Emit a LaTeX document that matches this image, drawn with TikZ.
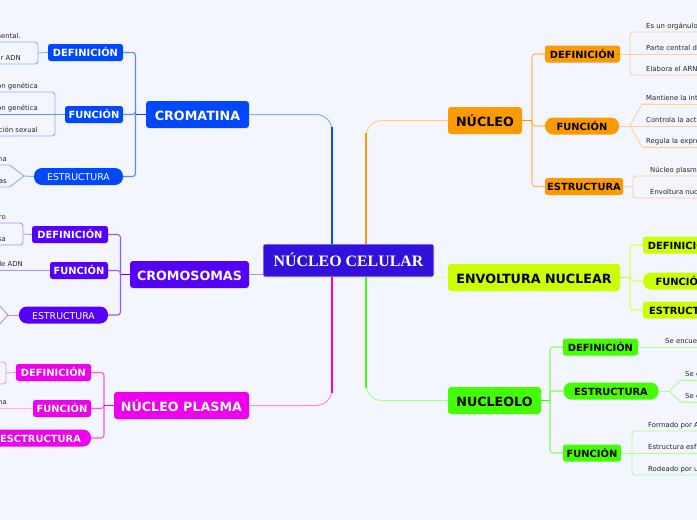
\documentclass[tikz,border=0pt]{standalone}
\usepackage{fontspec}
\setmainfont{DejaVu Sans}
\newfontfamily\titlefont{Liberation Serif}
\definecolor{pagebg}{HTML}{F4F6FF}
\definecolor{ccentral}{HTML}{3311DD}
\definecolor{cblue}{HTML}{0048FF}
\definecolor{cpurple}{HTML}{5500FF}
\definecolor{cmagenta}{HTML}{EE00EE}
\definecolor{corange}{HTML}{FF9900}
\definecolor{clime}{HTML}{CCFF00}
\definecolor{cgreen}{HTML}{44FF00}
\tikzset{
	central/.style={fill=ccentral, draw=white, line width=.6pt, rounded corners=2pt, inner sep=0pt, minimum height=33pt, minimum width=171pt, text height=11.5pt, text depth=0pt, text=white, font=\titlefont\fontsize{15.9}{16}\selectfont\bfseries},
	topic/.style={rounded corners=3pt, inner sep=0pt, minimum height=27pt, text height=11.5pt, text depth=0pt, font=\fontsize{12.7}{14}\selectfont\bfseries},
	subtopic/.style={rounded corners=2.5pt, inner sep=0pt, minimum height=17pt, text height=8pt, text depth=0pt, font=\fontsize{9.9}{11}\selectfont\bfseries},
	subpill/.style={subtopic, rounded corners=8pt},
	leafr/.style={anchor=base west, inner sep=0pt, text=black!85, font=\fontsize{6.9}{8}\selectfont},
	leafl/.style={leafr, anchor=base east},
}
% trunk from the central node: pale along the topic, strong near the centre
\newcommand{\drawtrunk}[4]{
	\draw[#3!45, line width=1pt, rounded corners=16pt] (#1) -- (#4 |- #1) -- (#4 |- #2);
	\draw[#3, line width=2.2pt] ($(#4 |- #2)!.9!(#4 |- #1)$) -- (#4 |- #2);
}
% bus between a topic and its subtopics
\newcommand{\drawbus}[4]{
	\draw[#4!65, line width=1.1pt, rounded corners=3pt] (#2) -- (#3 |- #2) -- (#3 |- #1);
	\draw[#4, line width=1.2pt] (#1) -- (#3 |- #1);
}
% open bracket #1 round the leaves, bend at #2, far end at #3, from #4 to #5
\newcommand{\drawbracket}[6]{
	\pgfmathsetmacro{\ymid}{(#4+#5)/2}
	\coordinate (#1) at (#2,\ymid);
	\draw[#6!45, line width=.9pt, rounded corners=3pt] (#3,#4) -- (#2,#4) -- (#2,#5) -- (#3,#5);
}
\newcommand{\drawchevron}[6]{
	\pgfmathsetmacro{\ymid}{(#4+#5)/2}
	\coordinate (#1) at (#2,\ymid);
	\draw[#6!45, line width=.9pt] (#3,#4) -- ($(#2,#4)!.5!(#3,#4)$) -- (#2,\ymid) -- ($(#2,#5)!.5!(#3,#5)$) -- (#3,#5);
}
\usetikzlibrary{calc}
\begin{document}
\begin{tikzpicture}[x=1pt,y=-1pt]
	\useasboundingbox (0,0) rectangle (697,520);
	\fill[pagebg] (0,0) rectangle (697,520);
	\clip (0,0) rectangle (697,520);

	\node[central] (celular) at (348.5,260.5) {NÚCLEO CELULAR};

	% topics
	\node[topic, fill=cblue, text=white, minimum width=103pt] (cromatina) at (197.5,114.5) {CROMATINA};
	\node[topic, fill=cpurple, text=white, minimum width=119pt] (cromosomas) at (189.5,274.5) {CROMOSOMAS};
	\node[topic, fill=cmagenta, text=white, minimum width=135pt] (plasma) at (181.5,405.5) {NÚCLEO PLASMA};
	\node[topic, fill=corange, text=black, minimum width=74pt] (nucleo) at (485,120.5) {NÚCLEO};
	\node[topic, fill=clime, text=black, minimum width=172pt] (envoltura) at (534,277.5) {ENVOLTURA NUCLEAR};
	\node[topic, fill=cgreen, text=black, minimum width=93pt] (nucleolo) at (494.5,400.5) {NUCLEOLO};

	\coordinate (trunkl) at (332,0);
	\coordinate (trunkr) at (366,0);
	\drawtrunk{cromatina.east}{trunkl |- celular.north}{cblue}{trunkl}
	\drawtrunk{plasma.east}{trunkl |- celular.south}{cmagenta}{trunkl}
	\drawtrunk{nucleo.west}{trunkr |- celular.north}{corange}{trunkr}
	\drawtrunk{nucleolo.west}{trunkr |- celular.south}{cgreen}{trunkr}
	\draw[cpurple!45, line width=1pt] (celular.west |- cromosomas.east) -- (cromosomas.east);
	\draw[clime!45, line width=1pt] (celular.east |- envoltura.west) -- (envoltura.west);

	% subtopics
	\node[subtopic, fill=cblue, text=white, minimum width=75pt] (cromatinadef) at (85.5,52.5) {DEFINICIÓN};
	\node[subtopic, fill=cblue, text=white, minimum width=58pt] (cromatinafun) at (94,114.5) {FUNCIÓN};
	\node[subpill, fill=cblue, text=white, minimum width=89pt, font=\fontsize{9.4}{11}\selectfont] (cromatinaest) at (78.5,176.5) {ESTRUCTURA};
	\node[subtopic, fill=cpurple, text=white, minimum width=76pt] (cromosomasdef) at (70,234.5) {DEFINICIÓN};
	\node[subtopic, fill=cpurple, text=white, minimum width=58pt] (cromosomasfun) at (79,270.5) {FUNCIÓN};
	\node[subpill, fill=cpurple, text=white, minimum width=89pt, font=\fontsize{9.4}{11}\selectfont] (cromosomasest) at (63.5,315) {ESTRUCTURA};
	\node[subtopic, fill=cmagenta, text=white, minimum width=75pt] (plasmadef) at (53.5,372.5) {DEFINICIÓN};
	\node[subtopic, fill=cmagenta, text=white, minimum width=58pt] (plasmafun) at (62,408.5) {FUNCIÓN};
	\node[subpill, fill=cmagenta, text=white, minimum width=101pt] (plasmaest) at (40.5,438) {ESCTRUCTURA};
	\node[subtopic, fill=corange, text=black, minimum width=75pt] (nucleodef) at (582.5,54) {DEFINICIÓN};
	\node[subpill, fill=corange, text=black, minimum width=74pt] (nucleofun) at (582,126) {FUNCIÓN};
	\node[subtopic, fill=corange, text=black, minimum width=78pt] (nucleoest) at (584,186.5) {ESTRUCTURA};
	\node[subtopic, fill=clime, text=black, minimum width=75pt] (envolturadef) at (680.5,245) {DEFINICIÓN};
	\node[subpill, fill=clime, text=black, minimum width=76pt] (envolturafun) at (681,281) {FUNCIÓN};
	\node[subtopic, fill=clime, text=black, minimum width=86pt] (envolturaest) at (686,310) {ESTRUCTURA};
	\node[subtopic, fill=cgreen, text=black, minimum width=75pt] (nucleolodef) at (600.5,347) {DEFINICIÓN};
	\node[subpill, fill=cgreen, text=black, minimum width=95pt] (nucleoloest) at (611,391) {ESTRUCTURA};
	\node[subtopic, fill=cgreen, text=black, minimum width=58pt] (nucleolofun) at (592,453) {FUNCIÓN};

	\coordinate (busa) at (135.5,0);
	\coordinate (busb) at (120.5,0);
	\coordinate (busc) at (104,0);
	\coordinate (busd) at (532,0);
	\coordinate (buse) at (630,0);
	\coordinate (busf) at (550,0);
	\foreach \sub in {def,fun,est} {
		\drawbus{cromatina.west}{cromatina\sub.east}{busa}{cblue}
		\drawbus{cromosomas.west}{cromosomas\sub.east}{busb}{cpurple}
		\drawbus{plasma.west}{plasma\sub.east}{busc}{cmagenta}
		\drawbus{nucleo.east}{nucleo\sub.west}{busd}{corange}
		\drawbus{envoltura.east}{envoltura\sub.west}{buse}{clime}
		\drawbus{nucleolo.east}{nucleolo\sub.west}{busf}{cgreen}
	}

	% leaves on the left
	\drawbracket{brcromdef}{38}{-5}{42}{64}{cblue}
	\draw[cblue!45, line width=.9pt] (cromatinadef.west) -- (brcromdef);
	\node[leafl] (leafa) at (21,38) {mental.};
	\node[leafl] (leafb) at (21,60) {r ADN};
	\drawbracket{brcromfun}{55}{-5}{92}{136}{cblue}
	\coordinate (endcromfun) at (-5,114.5);
	\draw[cblue!60, line width=.9pt] (cromatinafun.west) -- (endcromfun);
	\node[leafl] (leafc) at (38,88) {ón genética};
	\node[leafl] (leafd) at (38,110) {ón genética};
	\node[leafl] (leafe) at (38,132) {ción sexual};
	\drawchevron{chcromest}{24}{-5}{165}{187}{cblue}
	\draw[cblue!45, line width=.9pt] (cromatinaest.west) -- (chcromest);
	\node[leafl] (leaff) at (7,161) {na};
	\node[leafl] (leafg) at (7,183) {as};

	\drawbracket{brcrosdef}{23}{-5}{223}{245}{cpurple}
	\draw[cpurple!45, line width=.9pt] (cromosomasdef.west) -- (brcrosdef);
	\node[leafl] (leafh) at (6,219) {ro};
	\node[leafl] (leafi) at (6,241) {sa};
	\coordinate (endcrosfun) at (-5,270.5);
	\draw[cpurple!45, line width=.9pt] (cromosomasfun.west) -- (endcrosfun);
	\node[leafl] (leafj) at (23,266.5) {de ADN};
	\drawchevron{chcrosest}{8}{-12}{304}{326}{cpurple}
	\draw[cpurple!45, line width=.9pt] (cromosomasest.west) -- (chcrosest);

	\drawbracket{brplasdef}{6}{-5}{362}{384}{cmagenta}
	\draw[cmagenta!45, line width=.9pt] (plasmadef.west) -- (brplasdef);
	\coordinate (endplasfun) at (-5,408.5);
	\draw[cmagenta!30, line width=.9pt] (plasmafun.west) -- (endplasfun);
	\node[leafl] (leafk) at (7,404.5) {na};

	% leaves on the right
	\drawbracket{brnucdef}{630}{702}{32}{75}{corange}
	\coordinate (endnucdef) at (702,54);
	\draw[corange!45, line width=.9pt] (nucleodef.east) -- (endnucdef);
	\foreach \ypos/\txt [count=\i] in {28/Es un orgánulo, 50/Parte central d, 71/Elabora el ARN} {
		\node[leafr] (leafnucdef\i) at (646,\ypos) {\txt};
	}
	\drawchevron{chnucfun}{630}{654}{104}{147}{corange}
	\coordinate (endnucfun) at (702,126);
	\draw[corange!45, line width=.9pt] (nucleofun.east) -- (endnucfun);
	\draw[corange!45, line width=.9pt] (642,104) -- (702,104) (642,147) -- (702,147);
	\foreach \ypos/\txt [count=\i] in {100/Mantiene la int, 122/Controla la act, 143/Regula la expre} {
		\node[leafr] (leafnucfun\i) at (646,\ypos) {\txt};
	}
	\drawbracket{brnucest}{633}{702}{176}{198}{corange}
	\draw[corange!45, line width=.9pt] (nucleoest.east) -- (brnucest);
	\foreach \ypos/\txt [count=\i] in {172/Núcleo plasm, 194/Envoltura nuc} {
		\node[leafr] (leafnucest\i) at (650,\ypos) {\txt};
	}

	\coordinate (endoladef) at (702,347);
	\draw[cgreen!45, line width=.9pt] (nucleolodef.east) -- (endoladef);
	\node[leafr] (leafoladef) at (665,343) {Se encue};
	\drawchevron{cholaest}{669}{693}{380}{402}{cgreen}
	\draw[cgreen!45, line width=.9pt] (nucleoloest.east) -- (cholaest);
	\draw[cgreen!45, line width=.9pt] (681,380) -- (702,380) (681,402) -- (702,402);
	\node[leafr] (leafolaesta) at (685,376) {Se e};
	\node[leafr] (leafolaestb) at (685,398) {Se e};
	\drawbracket{brolafun}{632}{702}{431}{475}{cgreen}
	\coordinate (endolafun) at (702,453);
	\draw[cgreen!45, line width=.9pt] (nucleolofun.east) -- (endolafun);
	\foreach \ypos/\txt [count=\i] in {427/Formado por A, 449/Estructura esf, 471/Rodeado por u} {
		\node[leafr] (leafolafun\i) at (648,\ypos) {\txt};
	}
\end{tikzpicture}
\end{document}
